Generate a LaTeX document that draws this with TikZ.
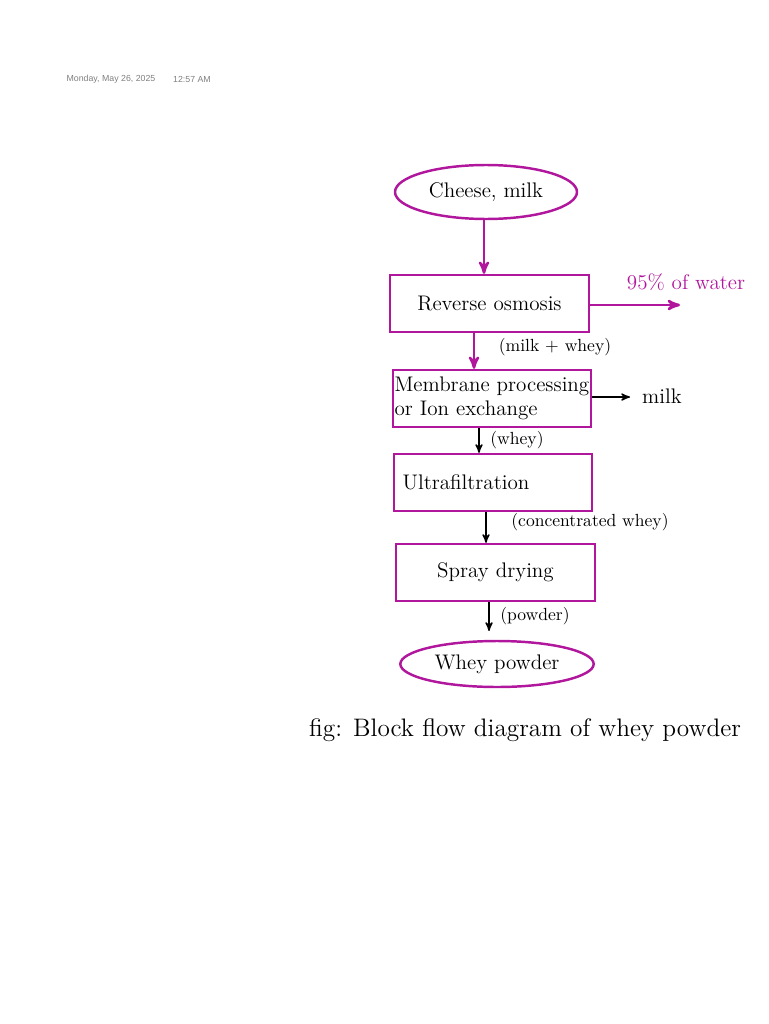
\documentclass[tikz,border=0pt]{standalone}
\usepackage{fontspec}
\setsansfont{Liberation Sans}
\usepackage{tikz}
\usetikzlibrary{shapes,arrows,calc,positioning}
\definecolor{inkpink}{HTML}{B0179C}

\begin{document}
\begin{tikzpicture}[x=0.02cm, y=-0.02cm,
    blk/.style={draw=inkpink, line width=1.3pt, text width=3.9cm, minimum height=1.14cm, inner sep=1pt, align=left, font=\large},
    oval/.style={ellipse, draw=inkpink, line width=1.4pt, font=\large},
    pinkarrow/.style={->, >=stealth', draw=inkpink, line width=1.4pt},
    inkarrow/.style={->, >=stealth', line width=0.8pt},
    side/.style={font=\normalsize}]
        \useasboundingbox (0,0) rectangle (768,1024);

        % Header
        \node[font=\sffamily\tiny, text=gray] (date) at (111,79) {Monday, May 26, 2025};
        \node[font=\sffamily\tiny, text=gray] (time) at (192,79) {12:57 AM};

        % Blocks
        \node[oval, minimum width=3.64cm, minimum height=1.08cm] (feed) at (486,192) {Cheese, milk};
        \node[blk, align=center] (ro) at (489.5,303.5) {Reverse osmosis};
        \node[blk] (mem) at (492,398.5) {Membrane processing\\or Ion exchange};
        \node[blk] (uf) at (493,482.5) {\ Ultrafiltration};
        \node[blk, align=center] (spray) at (495.5,572.5) {Spray drying};
        \node[oval, minimum width=3.8cm, minimum height=0.92cm] (prod) at (497,664) {Whey powder};

        % Side streams
        \coordinate (water) at (680,305);
        \coordinate (milkout) at (630,397);
        \node[side, text=inkpink, font=\large] (waterlbl) at (686,282) {95\% of water};
        \node[side, font=\large] (milklbl) at (662,396) {milk};

        % Main line
        \draw[pinkarrow] (feed.south -| 484,0) -- (ro.north -| 484,0);
        \draw[pinkarrow] (ro.south -| 474,0) -- (mem.north -| 474,0);
        \draw[inkarrow] (mem.south -| 479,0) -- (uf.north -| 479,0);
        \draw[inkarrow] (uf.south -| 486,0) -- (spray.north -| 486,0);
        \draw[inkarrow, shorten >=5pt] (spray.south -| 489,0) -- (prod.north -| 489,0);
        \draw[pinkarrow] (ro.east |- water) -- (water);
        \draw[inkarrow] (mem.east |- milkout) -- (milkout);

        % Stream labels
        \node[side] (l1) at (555,347) {(milk + whey)};
        \node[side] (l2) at (517,440) {(whey)};
        \node[side] (l3) at (590,522) {(concentrated whey)};
        \node[side] (l4) at (535,616) {(powder)};

        % Caption
        \node[font=\Large] (caption) at (525,730) {fig: Block flow diagram of whey powder};
\end{tikzpicture}
\end{document}
